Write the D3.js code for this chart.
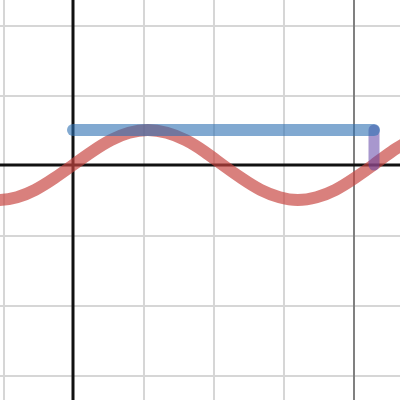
<!DOCTYPE html>
<html>
<head>
<meta charset="utf-8">
<script src="https://cdn.jsdelivr.net/npm/d3@7"></script>
<style>
html,body{margin:0;padding:0;background:#fff;}
svg{display:block;}
</style>
</head>
<body>
<svg id="chart" width="400" height="400"></svg>
<script>
// x in grid steps, y in curve units (grid every 2)
const xGrid = [-1, 1, 2, 3, 5];
const xMarked = [4];
const yGrid = [4, 2, -2, -4, -6];

const waveX = [-1.34,-1.07,-0.80,-0.54,-0.27,0,0.27,0.54,0.80,1.07,1.34,1.61,1.88,2.14,2.41,2.68,2.95,3.21,3.48,3.75,4.02,4.29,4.55,4.82];
const waveY = [-0.92,-1,-0.92,-0.71,-0.38,0,0.38,0.71,0.92,1,0.92,0.71,0.38,0,-0.38,-0.71,-0.92,-1,-0.92,-0.71,-0.38,0,0.38,0.71];

const topX = [0, 4.3];
const topY = [1, 1];
const dropX = [4.3, 4.3];
const dropY = [1, 0];

const W = 400, H = 400;
const x0px = 73, y0px = 165;
const x = d3.scaleLinear().domain([-x0px/70, (W - x0px)/70]).range([0, W]);
const y = d3.scaleLinear().domain([y0px/35, -(H - y0px)/35]).range([0, H]);

const svg = d3.select("#chart");
svg.append("rect").attr("width", W).attr("height", H).attr("fill", "#fff");

// grid via axes
const gx = svg.append("g").attr("transform", `translate(0,${H})`)
  .call(d3.axisBottom(x).tickValues(xGrid).tickSize(-H).tickFormat(""));
gx.select(".domain").remove();
gx.selectAll(".tick line").attr("stroke", "#d6d6d6").attr("stroke-width", 2).attr("shape-rendering", "crispEdges");

const gy = svg.append("g")
  .call(d3.axisLeft(y).tickValues(yGrid).tickSize(-W).tickFormat(""));
gy.select(".domain").remove();
gy.selectAll(".tick line").attr("stroke", "#d6d6d6").attr("stroke-width", 2).attr("shape-rendering", "crispEdges");

const gm = svg.append("g").attr("transform", `translate(0,${H})`)
  .call(d3.axisBottom(x).tickValues(xMarked).tickSize(-H).tickFormat(""));
gm.select(".domain").remove();
gm.selectAll(".tick line").attr("stroke", "#808080").attr("stroke-width", 2).attr("shape-rendering", "crispEdges");

// main axes
svg.append("line").attr("x1", x(0)).attr("x2", x(0)).attr("y1", 0).attr("y2", H)
  .attr("stroke", "#111").attr("stroke-width", 3);
svg.append("line").attr("x1", 0).attr("x2", W).attr("y1", y(0)).attr("y2", y(0))
  .attr("stroke", "#111").attr("stroke-width", 3);

const smooth = d3.line().x(d => x(d[0])).y(d => y(d[1])).curve(d3.curveNatural);
const straight = d3.line().x(d => x(d[0])).y(d => y(d[1]));

svg.append("path")
  .datum(waveX.map((v, i) => [v, waveY[i]]))
  .attr("d", smooth)
  .attr("fill", "none").attr("stroke", "#c74440").attr("stroke-opacity", 0.68)
  .attr("stroke-width", 12).attr("stroke-linecap", "round");

svg.append("path")
  .datum(dropX.map((v, i) => [v, dropY[i]]))
  .attr("d", straight)
  .attr("fill", "none").attr("stroke", "#6042a6").attr("stroke-opacity", 0.55)
  .attr("stroke-width", 11).attr("stroke-linecap", "round");

svg.append("path")
  .datum(topX.map((v, i) => [v, topY[i]]))
  .attr("d", straight)
  .attr("fill", "none").attr("stroke", "#2d70b3").attr("stroke-opacity", 0.6)
  .attr("stroke-width", 12).attr("stroke-linecap", "round");
</script>
</body>
</html>
